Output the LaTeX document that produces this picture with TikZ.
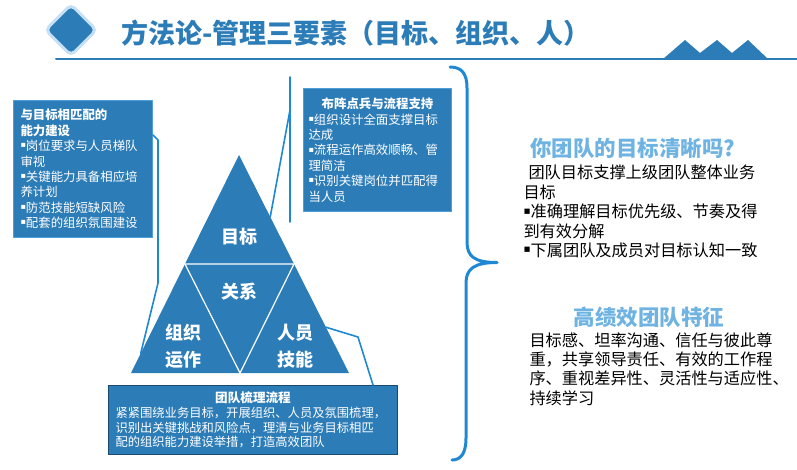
\documentclass[tikz,border=0pt]{standalone}
\usepackage{fontspec}
\setmainfont{Noto Sans CJK SC}
\newfontfamily\bulletfont{DejaVu Sans}
\usetikzlibrary{calc}
\definecolor{mainblue}{HTML}{2C7CB8}
\definecolor{linkblue}{HTML}{1E88D2}
\definecolor{headblue}{HTML}{6FB3E2}
\definecolor{logoglow}{HTML}{C5E0F4}
\newcommand{\bul}{\raisebox{.22em}{\scalebox{.65}{\bulletfont ▪}}}
\begin{document}
\begin{tikzpicture}[x=1pt, y=-1pt, line join=round, line cap=round,
  infobox/.style={rectangle, fill=mainblue, draw=linkblue!80!white, line width=1pt, text=white, align=left, inner sep=0pt, anchor=north west, font=\fontsize{12.4}{15.4}\selectfont},
  partlabel/.style={text=white, font=\bfseries\fontsize{18}{27}\selectfont, align=center},
  sidehead/.style={text=headblue, font=\bfseries\fontsize{21.5}{24}\selectfont},
  sidetext/.style={anchor=west, align=left, text=black, font=\fontsize{16.2}{19.4}\selectfont},
  linkline/.style={draw=linkblue, line width=1.6pt}]
\def\W{797}\def\H{469}
\useasboundingbox (0,0) rectangle (\W,\H);
\node[rectangle, rotate=45, rounded corners=5pt, minimum size=36pt, fill=mainblue, draw=logoglow, line width=3pt] (logo) at (71,30) {};
\node[anchor=base west, inner sep=0pt, text=mainblue, font=\bfseries\fontsize{27}{30}\selectfont] (title) at (121,43) {方法论-管理三要素（目标、组织、人）};
\draw[mainblue, line width=2pt] (56,59) -- (\W,59);
\fill[mainblue] (663,59) -- (685,40) -- (700,53) -- (717,40) -- (732,53) -- (748,40) -- (768,59) -- cycle;
\coordinate (apex) at (239,155);
\coordinate (bl) at (131,373);
\coordinate (br) at (349,373);
\coordinate (ml) at ($(apex)!.5!(bl)$);
\coordinate (mr) at ($(apex)!.5!(br)$);
\coordinate (mb) at ($(bl)!.5!(br)$);
\fill[mainblue] (apex) -- (bl) -- (br) -- cycle;
\draw[white, line width=1.2pt] (ml) -- (mr) -- (mb) -- cycle;
\node[partlabel] (goal) at (239,237) {目标};
\node[partlabel] (relation) at (239,292) {关系};
\node[partlabel] (org) at (183,346) {组织\\运作};
\node[partlabel] (people) at (295,346) {人员\\技能};
\node[infobox, minimum width=139pt, minimum height=137pt, text width=125pt] (ability) at (13,100)
  {\textbf{与目标相匹配的}\\\textbf{能力建设}\\\bul 岗位要求与人员梯队\\审视\\\bul 关键能力具备相应培\\养计划\\\bul 防范技能短缺风险\\\bul 配套的组织氛围建设};
\node[infobox, minimum width=148pt, minimum height=123pt, text width=138pt] (layout) at (303,88)
  {\makebox[\linewidth][c]{\bfseries 布阵点兵与流程支持}\\\bul 组织设计全面支撑目标\\达成\\\bul 流程运作高效顺畅、管\\理简洁\\\bul 识别关键岗位并匹配得\\当人员};
\node[infobox, draw=mainblue!60!black, minimum width=289pt, minimum height=69pt, text width=275pt, font=\fontsize{12.3}{14.6}\selectfont] (flow) at (108,385)
  {\makebox[\linewidth][c]{\bfseries\fontsize{12.6}{14.6}\selectfont 团队梳理流程}\\紧紧围绕业务目标，开展组织、人员及氛围梳理，\\识别出关键挑战和风险点，理清与业务目标相匹\\配的组织能力建设举措，打造高效团队};
\coordinate (lhook) at ($(ability.north east)+(5,40)$);
\coordinate (lbend) at (158,283);
\draw[linkline] ($(ability.north east)+(0,35)$) -- (lhook) -- (lbend) -- ($(bl)!.18!(ml)$);
\coordinate (rtop) at ($(layout.north west)+(-13,-11)$);
\coordinate (rbot) at (290,222);
\coordinate (rjoin) at (290,110);
\draw[linkline] (rtop) -- (rbot);
\draw[linkline] ($(apex)!.284!(br)$) -- (rjoin);
\coordinate (pbend) at (358,337);
\draw[linkline] ($(apex)!.79!(br)$) -- (pbend) -- ($(flow.north west)+(265,0)$);
\coordinate (btop) at (450,67);
\coordinate (btip) at (497,262.5);
\coordinate (bbot) at (452,460);
\draw[draw=linkblue, line width=3pt] (btop) .. controls (462,67) and (467,74) .. (467,88) -- (467,242)
  .. controls (467,256) and (474,262.5) .. (btip)
  .. controls (474,262.5) and (466,269) .. (466,283) -- (466,438)
  .. controls (466,453) and (461,460) .. (bbot);
\node[sidehead] (clearq) at (633,148) {你团队的目标清晰吗?};
\node[sidetext] (cleartxt) at (520,211.5) {\hspace*{5pt}团队目标支撑上级团队整体业务\\目标\\\bul 准确理解目标优先级、节奏及得\\到有效分解\\\bul 下属团队及成员对目标认知一致};
\node[sidehead] (teamq) at (649,317) {高绩效团队特征};
\node[sidetext] (teamtxt) at (526,369) {目标感、坦率沟通、信任与彼此尊\\重，共享领导责任、有效的工作程\\序、重视差异性、灵活性与适应性、\\持续学习};
\end{tikzpicture}
\end{document}
